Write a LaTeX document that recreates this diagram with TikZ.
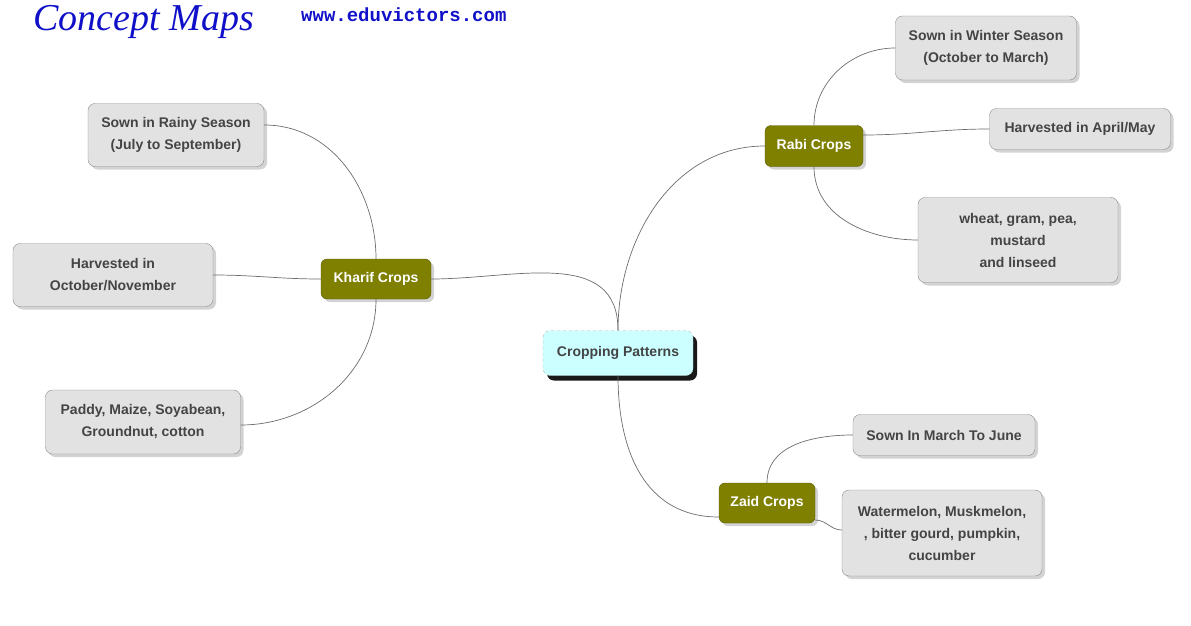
\documentclass[tikz,border=0pt]{standalone}
\usepackage{fontspec}
\setmainfont{Liberation Sans}
\newfontfamily\titlefont{Liberation Serif}
\newfontfamily\urlfont{Liberation Mono}
\usetikzlibrary{shadows}
\definecolor{olivebox}{HTML}{7F7F00}
\definecolor{leaffill}{HTML}{E2E2E2}
\definecolor{leafline}{HTML}{8A8A8A}
\definecolor{txt}{HTML}{444444}
\definecolor{cyanfill}{HTML}{CCFFFF}
\definecolor{titleblue}{HTML}{1010C8}
\tikzset{
 every node/.style={font=\fontsize{14}{22}\selectfont\bfseries},
 leaf/.style={draw=leafline, fill=leaffill, rounded corners=7pt, text=txt, align=center, inner sep=0pt,
   drop shadow={shadow xshift=3pt, shadow yshift=-3pt, opacity=0.35}},
 branch/.style={draw=olivebox!70!black, fill=olivebox, rounded corners=6pt, text=white, align=center, inner sep=0pt,
   drop shadow={shadow xshift=3pt, shadow yshift=-3pt, opacity=0.35}},
 rootbox/.style={draw=gray!60, dashed, fill=cyanfill, rounded corners=7pt, text=txt, inner sep=0pt,
   drop shadow={shadow xshift=4pt, shadow yshift=-5pt, fill=black, opacity=0.9}},
 link/.style={draw=gray!85!black, line width=0.7pt},
}
\begin{document}
\begin{tikzpicture}[x=1pt,y=-1pt]
\useasboundingbox (0,0) rectangle (1191,626);
\node[anchor=base west, text=titleblue, inner sep=0pt, font=\titlefont\itshape\fontsize{38}{38}\selectfont] (title) at (33,31) {Concept Maps};
\node[anchor=base west, text=titleblue, inner sep=0pt, font=\urlfont\bfseries\fontsize{19}{19}\selectfont] (url) at (301,22) {www.eduvictors.com};

\node[rootbox, minimum width=150pt, minimum height=45pt] (root) at (618,353) {Cropping Patterns};

\node[branch, minimum width=110pt, minimum height=40pt] (kharif) at (376,279) {Kharif Crops};
\node[branch, minimum width=98pt, minimum height=41pt] (rabi) at (814,146) {Rabi Crops};
\node[branch, minimum width=96pt, minimum height=40pt] (zaid) at (767,503) {Zaid Crops};

\node[leaf, minimum width=176pt, minimum height=63pt] (rainy) at (176,135) {Sown in Rainy Season\\(July to September)};
\node[leaf, minimum width=200pt, minimum height=63pt] (octnov) at (113,275) {Harvested in\\October/November};
\node[leaf, minimum width=195pt, minimum height=64pt] (paddy) at (143,422) {Paddy, Maize, Soyabean,\\Groundnut, cotton};
\node[leaf, minimum width=181pt, minimum height=64pt] (winter) at (986,48) {Sown in Winter Season\\(October to March)};
\node[leaf, minimum width=181pt, minimum height=41pt] (april) at (1080,129) {Harvested in April/May};
\node[leaf, minimum width=200pt, minimum height=85pt] (wheat) at (1018,240) {wheat, gram, pea,\\mustard\\and linseed};
\node[leaf, minimum width=182pt, minimum height=41pt] (march) at (944,435) {Sown In March To June};
\node[leaf, minimum width=200pt, minimum height=86pt] (melon) at (942,533) {Watermelon, Muskmelon,\\, bitter gourd, pumpkin,\\cucumber};

\draw[link] (root.north) to[out=90,in=0,looseness=1.1] (kharif.east);
\draw[link] (root.north) to[out=90,in=180,looseness=1] (rabi.west);
\draw[link] (root.south) to[out=-90,in=180,looseness=1.1] (zaid.west |- 0,517);

\draw[link] (kharif.north) to[out=90,in=0,looseness=1] (rainy.east |- 0,125);
\draw[link] (kharif.west) to[out=180,in=0] (octnov.east);
\draw[link] (kharif.south) to[out=-90,in=0,looseness=1] (paddy.east |- 0,425);

\draw[link] (rabi.north) to[out=90,in=180,looseness=1] (winter.west);
\draw[link] (rabi.east |- 0,135) to[out=0,in=180] (april.west);
\draw[link] (rabi.south) to[out=-90,in=180,looseness=1] (wheat.west);

\draw[link] (zaid.north) to[out=90,in=180,looseness=1] (march.west);
\draw[link] (zaid.east |- 0,520) to[out=0,in=180] (melon.west |- 0,530);
\end{tikzpicture}
\end{document}
